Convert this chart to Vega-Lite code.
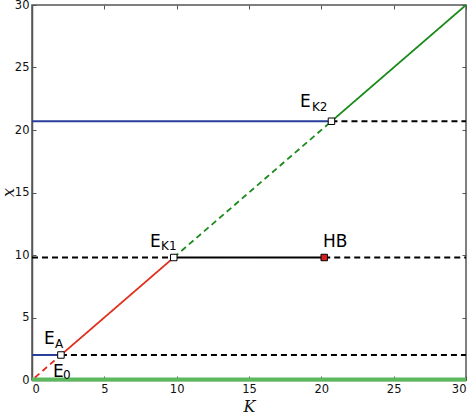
{
  "$schema": "https://vega.github.io/schema/vega-lite/v6.json",
  "autosize": "none",
  "width": 434,
  "height": 375,
  "padding": {"left": 32, "top": 5, "right": 8, "bottom": 34},
  "background": "white",
  "config": {
    "view": {"stroke": "#555555", "strokeWidth": 1.5},
    "axis": {
      "grid": false,
      "domainColor": "#555555",
      "domainWidth": 1.5,
      "tickColor": "#555555",
      "tickSize": -4,
      "labelPadding": 7,
      "labelFont": "DejaVu Sans",
      "labelFontSize": 11.5,
      "labelColor": "#111111",
      "titleFont": "DejaVu Serif",
      "titleFontStyle": "italic",
      "titleFontWeight": "normal",
      "titleFontSize": 16,
      "titleColor": "#111111"
    }
  },
  "resolve": {"axis": {"x": "independent", "y": "independent"}},
  "datasets": {
    "ground": [
      {"x": 0, "y": 0.05, "x2": 30, "y2": 0.05}
    ],
    "segments": [
      {"x": 0, "y": 2, "x2": 2, "y2": 2, "branch": "blue", "style": "solid"},
      {"x": 2, "y": 2, "x2": 30, "y2": 2, "branch": "black", "style": "dashed"},
      {"x": 0.2, "y": 0.2, "x2": 2, "y2": 2, "branch": "red", "style": "dashed"},
      {"x": 2, "y": 2, "x2": 9.8, "y2": 9.8, "branch": "red", "style": "solid"},
      {"x": 0, "y": 9.8, "x2": 9.8, "y2": 9.8, "branch": "black", "style": "dashed"},
      {"x": 9.8, "y": 9.8, "x2": 20.2, "y2": 9.8, "branch": "black", "style": "solid"},
      {"x": 20.2, "y": 9.8, "x2": 30, "y2": 9.8, "branch": "black", "style": "dashed"},
      {"x": 9.8, "y": 9.8, "x2": 20.7, "y2": 20.7, "branch": "green", "style": "dashed"},
      {"x": 20.7, "y": 20.7, "x2": 30, "y2": 30, "branch": "green", "style": "solid"},
      {"x": 0, "y": 20.7, "x2": 20.7, "y2": 20.7, "branch": "blue", "style": "solid"},
      {"x": 20.7, "y": 20.7, "x2": 30, "y2": 20.7, "branch": "black", "style": "dashed"}
    ],
    "points": [
      {"x": 2, "y": 2, "kind": "equilibrium"},
      {"x": 9.8, "y": 9.8, "kind": "equilibrium"},
      {"x": 20.7, "y": 20.7, "kind": "equilibrium"},
      {"x": 20.2, "y": 9.8, "kind": "hopf"}
    ],
    "mainLabels": [
      {"x": 0.83, "y": 2.88, "t": "E"},
      {"x": 1.45, "y": 0.24, "t": "E"},
      {"x": 8.16, "y": 10.64, "t": "E"},
      {"x": 20.11, "y": 10.64, "t": "HB"},
      {"x": 18.52, "y": 21.84, "t": "E"}
    ],
    "subLabels": [
      {"x": 1.59, "y": 2.56, "t": "A"},
      {"x": 2.14, "y": 0.08, "t": "0"},
      {"x": 8.92, "y": 10.4, "t": "K1"},
      {"x": 19.35, "y": 21.52, "t": "K2"}
    ]
  },
  "layer": [
    {
      "data": {"name": "ground"},
      "mark": {"type": "rule", "strokeCap": "butt", "color": "#5cb85c", "strokeWidth": 4},
      "encoding": {
        "x": {"field": "x", "type": "quantitative", "scale": {"domain": [0, 30], "nice": false},
              "axis": {"values": [0, 5, 10, 15, 20, 25, 30], "title": "K", "titleY": 18, "titleBaseline": "top"}},
        "y": {"field": "y", "type": "quantitative", "scale": {"domain": [0, 30], "nice": false},
              "axis": {"values": [0, 5, 10, 15, 20, 25, 30], "title": "x", "titleX": -19, "titleY": 187, "titleAlign": "center", "titleBaseline": "alphabetic"}},
        "x2": {"field": "x2"},
        "y2": {"field": "y2"}
      }
    },
    {
      "data": {"name": "segments"},
      "mark": {"type": "rule", "strokeCap": "butt", "strokeWidth": 1.8},
      "encoding": {
        "x": {"field": "x", "type": "quantitative",
              "axis": {"orient": "top", "values": [0, 5, 10, 15, 20, 25, 30], "labels": false, "title": null, "domain": false}},
        "y": {"field": "y", "type": "quantitative",
              "axis": {"orient": "right", "values": [0, 5, 10, 15, 20, 25, 30], "labels": false, "title": null, "domain": false}},
        "x2": {"field": "x2"},
        "y2": {"field": "y2"},
        "color": {"field": "branch", "type": "nominal", "legend": null,
                  "scale": {"domain": ["blue", "red", "green", "black"],
                            "range": ["#2a3f9a", "#e0301e", "#1a8a1a", "#000000"]}},
        "strokeDash": {"field": "style", "type": "nominal", "legend": null,
                       "scale": {"domain": ["solid", "dashed"], "range": [[1, 0], [6, 4]]}}
      }
    },
    {
      "data": {"name": "points"},
      "mark": {"type": "point", "shape": "square", "filled": true, "stroke": "#000000", "strokeWidth": 1, "size": 42, "opacity": 1},
      "encoding": {
        "x": {"field": "x", "type": "quantitative", "axis": null},
        "y": {"field": "y", "type": "quantitative", "axis": null},
        "fill": {"field": "kind", "type": "nominal", "legend": null,
                 "scale": {"domain": ["equilibrium", "hopf"], "range": ["#ffffff", "#d62020"]}}
      }
    },
    {
      "data": {"name": "mainLabels"},
      "mark": {"type": "text", "font": "DejaVu Sans", "fontSize": 17, "align": "left", "baseline": "alphabetic", "color": "#000000"},
      "encoding": {
        "x": {"field": "x", "type": "quantitative", "axis": null},
        "y": {"field": "y", "type": "quantitative", "axis": null},
        "text": {"field": "t"}
      }
    },
    {
      "data": {"name": "subLabels"},
      "mark": {"type": "text", "font": "DejaVu Sans", "fontSize": 12, "align": "left", "baseline": "alphabetic", "color": "#000000"},
      "encoding": {
        "x": {"field": "x", "type": "quantitative", "axis": null},
        "y": {"field": "y", "type": "quantitative", "axis": null},
        "text": {"field": "t"}
      }
    }
  ]
}
